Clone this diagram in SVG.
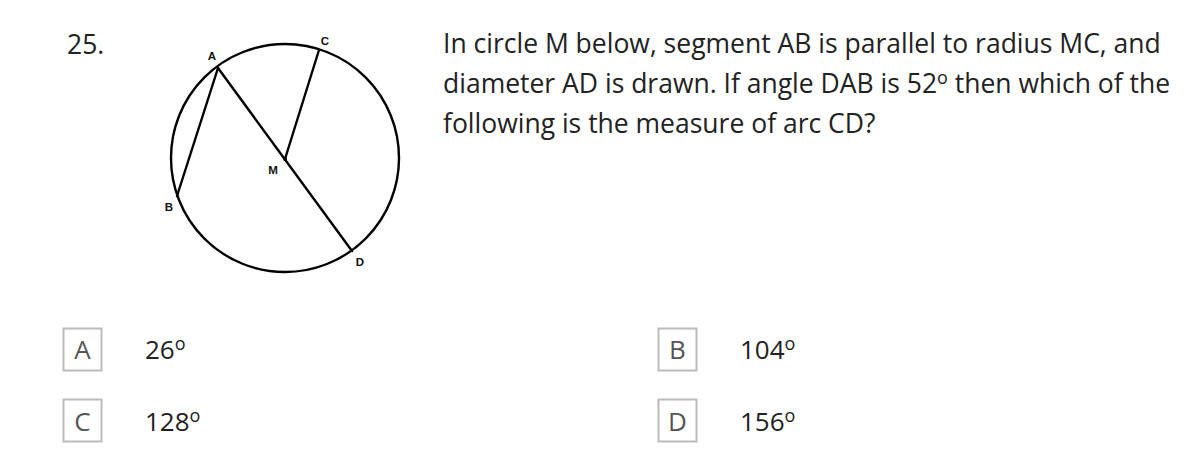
<svg xmlns="http://www.w3.org/2000/svg" width="1204" height="470" viewBox="0 0 1204 470">
<style>
.q{font-family:"Open Sans","Noto Sans",sans-serif;font-size:26.5px;fill:#222}
.lbl{font-family:"Liberation Sans",Arial,sans-serif;font-size:11.5px;font-weight:bold;fill:#111;text-anchor:middle}
.g{stroke:#000;stroke-width:2.4;fill:none;stroke-linecap:round}
.box{fill:#fff;stroke:#bbb;stroke-width:2}
.opt{font-family:"Open Sans","Noto Sans",sans-serif;font-size:26px;fill:#555;text-anchor:middle}
.ans{font-family:"Open Sans","Noto Sans",sans-serif;font-size:26px;fill:#222}
.sup{font-size:18px}
</style>
<rect width="1204" height="470" fill="#fff"/>
<text class="q" x="67" y="54">25.</text>
<g id="figure">
<circle class="g" cx="285" cy="158" r="114"/>
<line class="g" x1="218" y1="68" x2="352" y2="251"/>
<line class="g" x1="218" y1="68" x2="177" y2="196"/>
<line class="g" x1="285" y1="159" x2="319" y2="50"/>
<circle cx="285" cy="159" r="2" fill="#000"/>
<text class="lbl" x="212" y="60">A</text>
<text class="lbl" x="325" y="45">C</text>
<text class="lbl" x="273" y="174">M</text>
<text class="lbl" x="169" y="211">B</text>
<text class="lbl" x="360" y="266">D</text>
</g>
<g id="question">
<text class="q" x="443" y="53">In circle M below, segment AB is parallel to radius MC, and</text>
<text class="q" x="443" y="93">diameter AD is drawn. If angle DAB is 52<tspan class="sup" dy="-9">o</tspan><tspan dy="9"> then which of the</tspan></text>
<text class="q" x="443" y="133">following is the measure of arc CD?</text>
</g>
<g id="optA">
<rect class="box" x="63.5" y="328.5" width="38" height="42"/>
<text class="opt" x="82.5" y="359">A</text>
<text class="ans" x="145" y="359">26<tspan class="sup" dy="-9">o</tspan></text>
</g>
<g id="optB">
<rect class="box" x="658.5" y="328.5" width="38" height="42"/>
<text class="opt" x="677.5" y="359">B</text>
<text class="ans" x="740" y="359">104<tspan class="sup" dy="-9">o</tspan></text>
</g>
<g id="optC">
<rect class="box" x="63.5" y="399.5" width="38" height="42"/>
<text class="opt" x="82.5" y="431">C</text>
<text class="ans" x="145" y="431">128<tspan class="sup" dy="-9">o</tspan></text>
</g>
<g id="optD">
<rect class="box" x="658.5" y="399.5" width="38" height="42"/>
<text class="opt" x="677.5" y="431">D</text>
<text class="ans" x="740" y="431">156<tspan class="sup" dy="-9">o</tspan></text>
</g>
</svg>
